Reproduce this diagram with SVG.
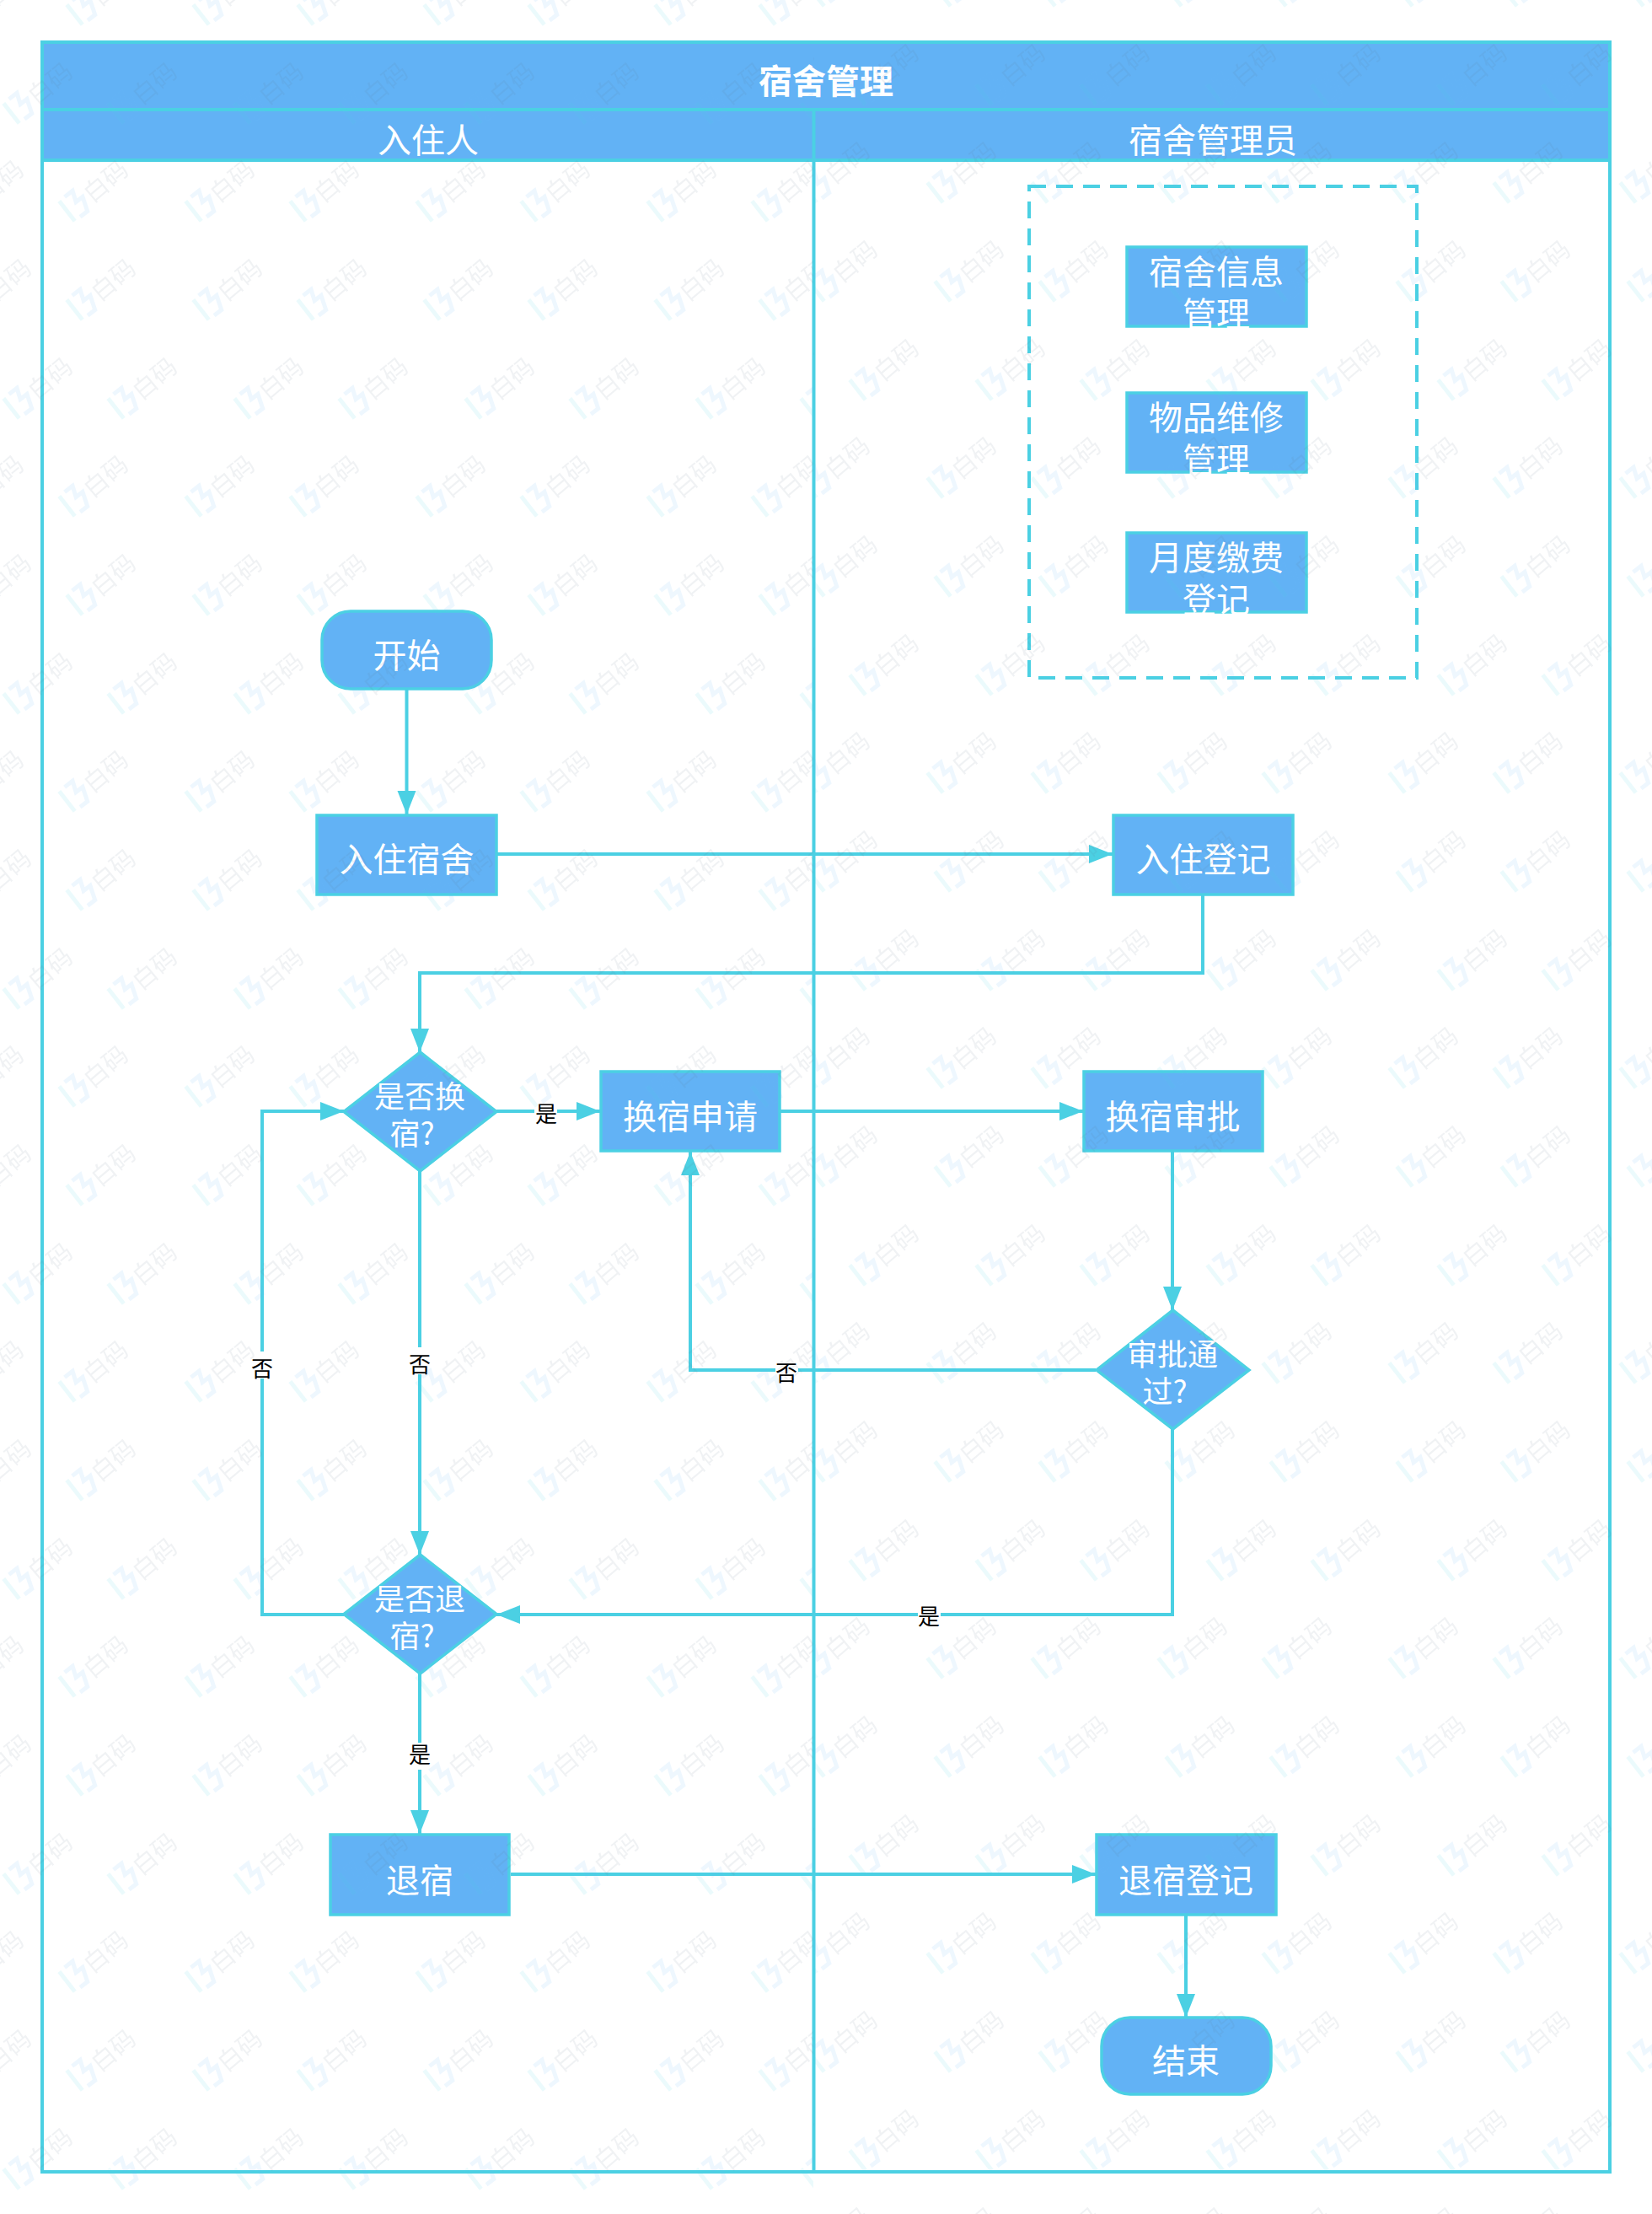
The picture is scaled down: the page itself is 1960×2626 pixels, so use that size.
<svg xmlns="http://www.w3.org/2000/svg" width="1960" height="2626" viewBox="0 0 1960 2626">
<style>
text{font-family:"Noto Sans CJK SC","Liberation Sans",sans-serif;text-anchor:middle}
.n{fill:#62b2f5;stroke:#4bd0e3;stroke-width:3.500}
.t{fill:#fff;font-size:40px}
.d{fill:#fff;font-size:36px}
.c{fill:none;stroke:#4bd0e3;stroke-width:4;marker-end:url(#a)}
.p{fill:none;stroke:#4bd0e3;stroke-width:4}
.l{fill:#000;font-size:26px}
.b{fill:#fff}
.wt{font-size:29px;fill:#5a6e80;fill-opacity:.09}
.w1{fill:none;stroke:#4bd0e3;stroke-opacity:.11;stroke-width:5}
.w2{fill:none;stroke:#62b2f5;stroke-opacity:.11;stroke-width:5}
</style>
<defs>
<marker id="a" markerUnits="userSpaceOnUse" markerWidth="29" markerHeight="24" refX="28" refY="12" orient="auto"><path d="M0,1 L28,12 L0,23 z" fill="#4bd0e3"/></marker>
<g id="wm">
<g transform="rotate(-38)"><path class="w1" d="M-12,-15V15"/><path class="w2" d="M-4,-15H8L3,-2H13L7,15H-4"/></g>
<text class="wt" transform="translate(43,-20) rotate(-40)">白码</text>
</g>
<g id="tile">
<use href="#wm" x="98" y="10"/><use href="#wm" x="248" y="10"/><use href="#wm" x="-26" y="10"/>
<use href="#wm" x="98" y="360"/><use href="#wm" x="248" y="360"/><use href="#wm" x="-26" y="360"/>
<use href="#wm" x="23" y="127"/><use href="#wm" x="147" y="127"/>
<use href="#wm" x="89" y="243"/><use href="#wm" x="239" y="243"/><use href="#wm" x="-35" y="243"/>
</g>
<pattern id="wA" patternUnits="userSpaceOnUse" x="0" y="0" width="274" height="350"><use href="#tile"/></pattern>
<pattern id="wB" patternUnits="userSpaceOnUse" x="58" y="-22" width="274" height="350"><use href="#tile"/></pattern>
<clipPath id="c1"><rect x="1335" y="291" width="217" height="99"/></clipPath>
<clipPath id="c2"><rect x="1335" y="463" width="217" height="100"/></clipPath>
<clipPath id="c3"><rect x="1335" y="630" width="217" height="99"/></clipPath>
</defs>
<rect width="1960" height="2626" fill="#fff"/>
<g id="pool">
<rect x="50" y="50" width="1860" height="140" fill="#62b2f5"/>
<rect x="50" y="50" width="1860" height="2526" class="p"/>
<path class="p" d="M50,130H1910M50,190H1910M965.500,130V2576"/>
<text class="t" x="980" y="111" style="font-weight:700">宿舍管理</text>
<text class="t" x="508" y="181">入住人</text>
<text class="t" x="1439" y="181">宿舍管理员</text>
</g>
<g id="connectors">
<path class="c" d="M482.500,817V966"/>
<path class="c" d="M590,1013H1320"/>
<path class="c" d="M1427,1062V1154H498V1248"/>
<path class="c" d="M589,1318H712"/>
<path class="c" d="M926,1318H1285"/>
<path class="c" d="M1391,1366V1554"/>
<path class="c" d="M1300,1625H819V1366"/>
<path class="c" d="M498,1389V1844"/>
<path class="c" d="M408,1915H311V1318H408"/>
<path class="c" d="M1391,1695V1915H589"/>
<path class="c" d="M498,1985V2175"/>
<path class="c" d="M606,2223H1300"/>
<path class="c" d="M1407,2272V2393"/>
<g id="labels">
<rect class="b" x="634" y="1306" width="27" height="32"/><text class="l" x="648" y="1331">是</text>
<rect class="b" x="485" y="1598" width="27" height="32"/><text class="l" x="498" y="1628">否</text>
<rect class="b" x="298" y="1603" width="27" height="32"/><text class="l" x="311" y="1633">否</text>
<rect class="b" x="920" y="1608" width="27" height="32"/><text class="l" x="933" y="1638">否</text>
<rect class="b" x="1089" y="1903" width="27" height="32"/><text class="l" x="1102" y="1927">是</text>
<rect class="b" x="485" y="2067" width="27" height="32"/><text class="l" x="498" y="2091">是</text>
</g>
</g>
<rect id="group" x="1221" y="221" width="460" height="583" fill="none" stroke="#4bd0e3" stroke-width="4" stroke-dasharray="20 12"/>
<g id="n1"><rect class="n" x="1337" y="293" width="213" height="94"/><g clip-path="url(#c1)"><text class="t" x="1443" y="337">宿舍信息</text><text class="t" x="1443" y="387">管理</text></g></g>
<g id="n2"><rect class="n" x="1337" y="466" width="213" height="94"/><g clip-path="url(#c2)"><text class="t" x="1443" y="510">物品维修</text><text class="t" x="1443" y="560">管理</text></g></g>
<g id="n3"><rect class="n" x="1337" y="632" width="213" height="94"/><g clip-path="url(#c3)"><text class="t" x="1443" y="676">月度缴费</text><text class="t" x="1443" y="726">登记</text></g></g>
<g id="start"><rect class="n" x="382" y="725" width="201" height="92" rx="34" ry="34"/><text class="t" x="482.500" y="792">开始</text></g>
<g id="checkin"><rect class="n" x="376" y="967" width="213" height="94"/><text class="t" x="482.500" y="1034">入住宿舍</text></g>
<g id="checkinreg"><rect class="n" x="1321" y="967" width="213" height="94"/><text class="t" x="1427.500" y="1034">入住登记</text></g>
<g id="d1"><path class="n" d="M498.500,1248L589,1318.500L498.500,1389L408,1318.500z"/><text class="d" x="498" y="1314">是否换</text><text class="d" x="489" y="1358">宿?</text></g>
<g id="apply"><rect class="n" x="713" y="1271" width="212" height="94"/><text class="t" x="819" y="1339">换宿申请</text></g>
<g id="approve"><rect class="n" x="1286" y="1271" width="212" height="94"/><text class="t" x="1391.500" y="1339">换宿审批</text></g>
<g id="d2"><path class="n" d="M1391.500,1554L1482,1625L1391.500,1695L1301,1625z"/><text class="d" x="1391" y="1620">审批通</text><text class="d" x="1382" y="1664">过?</text></g>
<g id="d3"><path class="n" d="M498.500,1844L589,1914.500L498.500,1985L408,1914.500z"/><text class="d" x="498" y="1910">是否退</text><text class="d" x="489" y="1954">宿?</text></g>
<g id="leave"><rect class="n" x="392" y="2176" width="212" height="95"/><text class="t" x="498" y="2245">退宿</text></g>
<g id="leavereg"><rect class="n" x="1301" y="2176" width="213" height="95"/><text class="t" x="1407" y="2245">退宿登记</text></g>
<g id="end"><rect class="n" x="1307" y="2393" width="201" height="91" rx="34" ry="34"/><text class="t" x="1407" y="2459">结束</text></g>
<rect x="0" y="0" width="965" height="2626" fill="url(#wA)"/>
<rect x="965" y="0" width="995" height="2626" fill="url(#wB)"/>
</svg>
